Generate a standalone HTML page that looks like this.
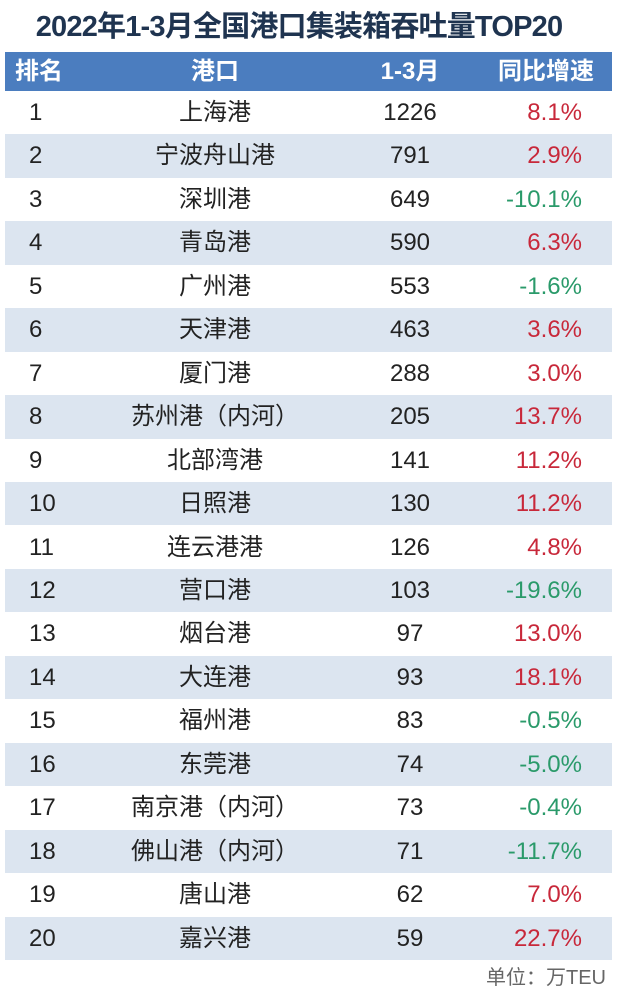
<!DOCTYPE html>
<html><head><meta charset="utf-8"><style>
body{margin:0;width:634px;height:1000px;background:#fff;font-family:"Liberation Sans","Noto Sans CJK SC",sans-serif;position:relative;overflow:hidden}
.title{position:absolute;top:3px;left:0;width:598px;text-align:center;font-size:29px;font-weight:bold;color:#1f3450;letter-spacing:-0.8px}
.hdr{position:absolute;top:52px;left:5px;width:607px;height:39px;background:#4b7dbf;color:#fff;font-weight:bold;font-size:24px}
.row{position:absolute;left:5px;width:607px;height:43.45px;font-size:24px;color:#222}
.row.s{background:#dce5f0}
.c{position:absolute;top:0;line-height:43px;white-space:nowrap}
.hdr .c{line-height:39px}
.r{left:24px}
.p{left:110px;width:200px;text-align:center}
.n{left:340px;width:130px;text-align:center}
.g{right:30px;text-align:right}
.red{color:#c8283a}.grn{color:#2a9a6a}
.foot{position:absolute;top:961px;right:28px;font-size:20px;color:#666}
</style></head><body>
<div class="title">2022年1-3月全国港口集装箱吞吐量TOP20</div>
<div class="hdr"><span class="c" style="left:10px">排名</span><span class="c p">港口</span><span class="c n">1-3月</span><span class="c" style="right:18px">同比增速</span></div>
<div id="t"></div>
<div class="foot">单位：万TEU</div>
<script>
var d=[["上海港",1226,"8.1%"],["宁波舟山港",791,"2.9%"],["深圳港",649,"-10.1%"],["青岛港",590,"6.3%"],["广州港",553,"-1.6%"],["天津港",463,"3.6%"],["厦门港",288,"3.0%"],["苏州港（内河）",205,"13.7%"],["北部湾港",141,"11.2%"],["日照港",130,"11.2%"],["连云港港",126,"4.8%"],["营口港",103,"-19.6%"],["烟台港",97,"13.0%"],["大连港",93,"18.1%"],["福州港",83,"-0.5%"],["东莞港",74,"-5.0%"],["南京港（内河）",73,"-0.4%"],["佛山港（内河）",71,"-11.7%"],["唐山港",62,"7.0%"],["嘉兴港",59,"22.7%"]];
var h="";d.forEach(function(x,i){h+='<div class="row'+(i%2?' s':'')+'" style="top:'+(91+i*43.45)+'px"><span class="c r">'+(i+1)+'</span><span class="c p">'+x[0]+'</span><span class="c n">'+x[1]+'</span><span class="c g '+(x[2][0]=='-'?'grn':'red')+'">'+x[2]+'</span></div>'});
document.getElementById("t").innerHTML=h;
</script>
</body></html>
